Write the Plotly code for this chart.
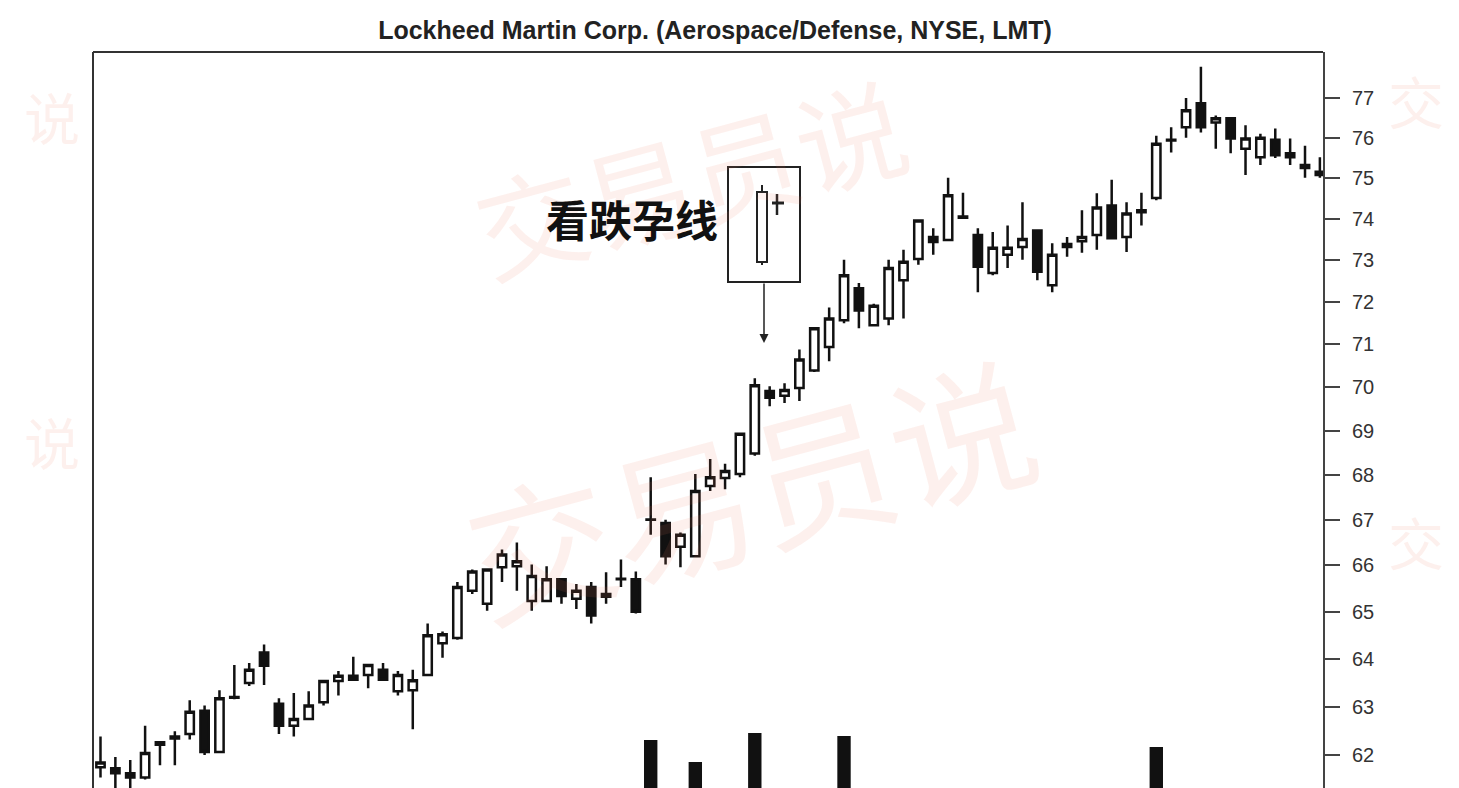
import plotly.graph_objects as go

# ---- data ----
day = list(range(83))
opens = [61.75, 61.73, 61.63, 61.54, 62.26, 62.34, 62.43, 62.91, 62.06, 63.18,
         63.49, 64.13, 63.06, 62.60, 62.74, 63.09, 63.53, 63.64, 63.66, 63.77,
         63.32, 63.34, 63.66, 64.33, 64.44, 65.45, 65.17, 65.96, 65.98, 65.23,
         65.23, 65.70, 65.28, 65.53, 65.32, 65.70, 65.70, 67.00, 66.93, 66.41,
         66.20, 67.75, 67.93, 68.02, 68.48, 69.91, 69.80, 69.98, 70.38, 70.93,
         71.56, 72.32, 71.44, 71.60, 72.51, 73.02, 73.55, 73.48, 74.05, 73.60,
         72.68, 73.12, 73.31, 73.71, 72.39, 73.31, 73.45, 73.60, 74.32, 73.55,
         74.20, 74.50, 75.93, 76.26, 76.87, 76.38, 76.49, 75.72, 75.51, 75.95,
         75.61, 75.32, 75.15]
highs = [62.38, 61.96, 61.90, 62.60, 62.28, 62.49, 63.13, 63.02, 63.34, 63.87,
         63.91, 64.30, 63.17, 63.28, 63.32, 63.55, 63.74, 64.04, 63.89, 63.91,
         63.74, 63.77, 64.75, 64.58, 65.64, 65.91, 65.93, 66.35, 66.50, 66.02,
         65.98, 65.72, 65.60, 65.64, 65.85, 66.13, 65.87, 67.95, 67.00, 66.72,
         68.02, 68.36, 68.25, 68.95, 70.20, 70.02, 70.09, 70.87, 71.40, 71.86,
         73.00, 72.44, 71.95, 73.00, 73.24, 73.97, 73.76, 75.00, 74.63, 73.76,
         73.67, 73.83, 74.40, 73.74, 73.40, 73.55, 74.20, 74.62, 74.95, 74.40,
         74.63, 76.05, 76.26, 77.00, 77.80, 76.56, 76.51, 76.31, 76.10, 76.23,
         75.98, 75.80, 75.51]
lows = [61.54, 61.31, 61.30, 61.50, 61.79, 61.79, 62.32, 62.00, 62.04, 63.15,
        63.43, 63.45, 62.43, 62.38, 62.72, 63.02, 63.23, 63.53, 63.38, 63.53,
        63.23, 62.53, 63.64, 64.02, 64.40, 65.38, 65.02, 65.64, 65.45, 65.02,
        65.21, 65.17, 65.06, 64.75, 65.17, 65.53, 64.96, 66.67, 66.02, 65.96,
        66.20, 67.64, 67.68, 67.95, 68.43, 69.56, 69.63, 69.68, 70.35, 70.60,
        71.49, 71.37, 71.44, 71.44, 71.60, 72.88, 73.12, 73.45, 74.00, 72.22,
        72.63, 72.80, 73.00, 72.51, 72.22, 73.07, 73.17, 73.24, 73.50, 73.19,
        73.83, 74.45, 75.63, 76.00, 76.13, 75.72, 75.61, 75.07, 75.32, 75.49,
        75.32, 75.00, 75.00]
closes = [61.85, 61.63, 61.54, 62.04, 62.21, 62.38, 62.89, 62.06, 63.17, 63.20,
          63.77, 63.85, 62.60, 62.74, 63.02, 63.53, 63.64, 63.56, 63.87, 63.56,
          63.66, 63.55, 64.50, 64.52, 65.53, 65.87, 65.91, 66.24, 66.09, 65.77,
          65.70, 65.34, 65.45, 64.92, 65.38, 65.71, 65.00, 67.01, 66.20, 66.67,
          67.64, 67.95, 68.09, 68.93, 70.04, 69.75, 69.93, 70.64, 71.37, 71.60,
          72.63, 71.79, 71.90, 72.80, 72.95, 73.95, 73.43, 74.57, 74.02, 72.83,
          73.29, 73.29, 73.50, 72.71, 73.12, 73.38, 73.55, 74.27, 73.52, 74.12,
          74.15, 75.85, 75.95, 76.69, 76.26, 76.49, 75.98, 75.98, 76.00, 75.56,
          75.51, 75.24, 75.07]
# volume in millions of shares (only the largest reach into the visible strip)
volume = [1.2, 1.0, 1.1, 1.3, 0.9, 0.8, 1.0, 1.4, 1.5, 1.1,
          0.9, 1.2, 1.6, 1.0, 0.9, 1.1, 0.8, 0.9, 0.8, 0.9,
          1.0, 1.3, 1.5, 1.0, 1.7, 1.2, 1.1, 1.0, 1.3, 1.2,
          0.9, 0.8, 0.9, 1.3, 0.9, 1.0, 1.4, 2.96, 1.8, 1.3,
          2.52, 1.4, 1.1, 1.6, 3.10, 1.5, 1.2, 1.4, 1.7, 1.5,
          3.04, 1.6, 1.2, 1.5, 1.4, 1.6, 1.1, 1.5, 1.3, 1.6,
          1.2, 1.0, 1.3, 1.4, 1.3, 0.9, 1.1, 1.3, 1.5, 1.2,
          1.1, 2.82, 1.3, 1.4, 1.8, 1.1, 1.2, 1.3, 1.0, 1.1,
          0.9, 1.2, 1.0]
price_ticks = list(range(62, 78))
title_text = "Lockheed Martin Corp. (Aerospace/Defense, NYSE, LMT)"
pattern_label = "看跌孕线"
watermark = "交易员说"

# the page body has an 8px margin, so figure coords = window coords - 8
OFF = 8
W, H = 1459, 788
L, R, T, B = 93, 1323, 52, 788  # plot box in window pixels


def px(x):
    return (x - L) / (R - L)


def py(y):
    return (B - y) / (B - T)


fig = go.Figure()
fig.add_trace(go.Bar(x=day, y=volume, marker_color="#111111", marker_line_width=0,
                     width=0.9, yaxis="y", showlegend=False))
fig.add_trace(go.Candlestick(
    x=day, open=opens, high=highs, low=lows, close=closes, yaxis="y2",
    increasing=dict(line=dict(color="#111111", width=2.5), fillcolor="white"),
    decreasing=dict(line=dict(color="#111111", width=2.5), fillcolor="#111111"),
    whiskerwidth=0, showlegend=False))

shapes = [
    dict(type="line", xref="paper", yref="paper", x0=0, x1=0, y0=0, y1=1,
         line=dict(color="#333333", width=2)),
    dict(type="line", xref="paper", yref="paper", x0=0, x1=1, y0=1, y1=1,
         line=dict(color="#333333", width=2)),
    # annotation box with bearish-harami icon
    dict(type="rect", xref="paper", yref="paper", x0=px(728), x1=px(800),
         y0=py(282), y1=py(167), line=dict(color="#222222", width=2)),
    dict(type="line", xref="paper", yref="paper", x0=px(762), x1=px(762),
         y0=py(265), y1=py(185), line=dict(color="#222222", width=2)),
    dict(type="rect", xref="paper", yref="paper", x0=px(757), x1=px(767),
         y0=py(262), y1=py(192), line=dict(color="#222222", width=2),
         fillcolor="white"),
    dict(type="line", xref="paper", yref="paper", x0=px(777), x1=px(777),
         y0=py(215), y1=py(194), line=dict(color="#222222", width=2.5)),
    dict(type="line", xref="paper", yref="paper", x0=px(772), x1=px(784),
         y0=py(203), y1=py(203), line=dict(color="#222222", width=3)),
]

wm_color = "rgba(240,120,90,0.11)"
annotations = []
# faint diagonal watermark of the source image
for (cx, cy, size) in [(690, 175, 110), (750, 485, 145)]:
    annotations.append(dict(xref="paper", yref="paper", x=px(cx), y=py(cy), text=watermark,
                            showarrow=False, textangle=-15, xanchor="center",
                            yanchor="middle",
                            font=dict(family="Noto Sans CJK SC", size=size, color=wm_color)))
for (cx, cy, t) in [(52, 440, "说"), (52, 115, "说"), (1416, 100, "交"), (1416, 540, "交")]:
    annotations.append(dict(xref="paper", yref="paper", x=px(cx), y=py(cy), text=t,
                            showarrow=False, xanchor="center", yanchor="middle",
                            font=dict(family="Noto Sans CJK SC", size=56, color=wm_color)))
annotations += [
    dict(xref="paper", yref="paper", x=px(632), y=py(218), text="<b>" + pattern_label + "</b>",
         showarrow=False, xanchor="center", yanchor="middle",
         font=dict(family="Noto Sans CJK SC", size=43, color="#111111")),
    dict(xref="paper", yref="paper", x=px(764), y=py(343), ax=0, ay=-61, text="",
         showarrow=True, arrowhead=2, arrowsize=1.2, arrowwidth=1.5, arrowcolor="#222222"),
]

fig.update_layout(
    width=W, height=H,
    margin=dict(l=L - OFF, r=W - (R - OFF), t=T - OFF, b=H - (B - OFF)),
    paper_bgcolor="white", plot_bgcolor="white",
    title=dict(text="<b>" + title_text + "</b>", x=(715 - OFF) / W, xanchor="center",
               y=1 - (30 - OFF) / H, yanchor="middle",
               font=dict(family="Liberation Sans, Arial", size=25, color="#222222")),
    xaxis=dict(range=[-0.504, 82.21], visible=False, rangeslider=dict(visible=False)),
    yaxis=dict(range=[2.0, 16.72], visible=False),
    yaxis2=dict(overlaying="y", side="right", type="log",
                range=[1.78767, 1.89308], tickvals=price_ticks,
                ticktext=[str(v) for v in price_ticks],
                ticks="outside", ticklen=15, tickwidth=2, tickcolor="#444444",
                ticklabelstandoff=8,
                showline=True, linewidth=2, linecolor="#444444", showgrid=False,
                zeroline=False, tickfont=dict(family="Liberation Sans, Arial", size=20,
                                              color="#333333")),
    shapes=shapes, annotations=annotations,
    boxgap=0.2, bargap=0.1,
)

fig.write_html("out.html")
